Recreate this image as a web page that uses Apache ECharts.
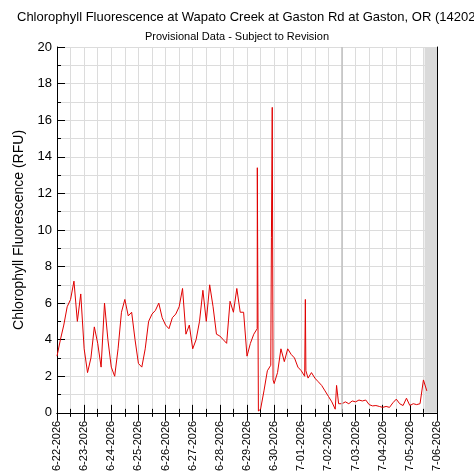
<!DOCTYPE html>
<html><head><meta charset="utf-8">
<script src="https://cdn.jsdelivr.net/npm/echarts@6/dist/echarts.min.js"></script>
<style>html,body{margin:0;padding:0;background:#fff}#c{width:474px;height:474px}</style>
</head><body><div id="c"></div>
<script>
const startDate = '2026-06-22T00:00:00Z';
const endDate = '2026-07-06T00:00:00Z';
const stepHours = 3;
const values = [
 3.1,4.0,4.8,5.8,6.2,7.2,5.0,6.5,
 3.5,2.2,3.0,4.7,3.8,2.5,6.0,4.0,
 2.5,2.0,3.5,5.5,6.2,5.3,5.5,4.0,
 2.7,2.5,3.5,5.0,5.4,5.6,6.0,5.2,
 4.8,4.6,5.2,5.4,5.8,6.8,4.3,4.8,
 3.5,4.0,5.0,6.7,5.0,7.0,5.8,4.3,
 4.2,4.0,3.8,6.1,5.5,6.8,5.5,5.5,
 3.1,3.8,4.3,4.6,0.2,1.2,2.3,2.6,
 1.6,2.2,3.5,2.8,3.5,3.2,3.0,2.5,
 2.3,2.0,1.9,2.2,1.9,1.7,1.5,1.2,
 0.9,0.6,0.2,0.5,0.5,0.6,0.5,0.65,
 0.6,0.7,0.65,0.7,0.45,0.38,0.4,0.35,
 0.3,0.35,0.3,0.55,0.75,0.5,0.4,0.8,
 0.4,0.5,0.45,0.5,1.8,1.2
];
// spikes: [day offset, value]
const spikes = [[7.38,13.4],[7.42,0.1],[7.9,9.6],[7.93,16.7],[7.96,1.8],[9.15,6.2],[9.17,2.3],[10.3,1.5]];
const provisionalStart = '2026-07-05T13:00:00Z';
const refLine = '2026-07-02T11:30:00Z';

const DAY = 86400000;
const t0 = Date.parse(startDate);
const t1 = Date.parse(endDate);
let pts = values.map((v,i)=>[t0 + i*stepHours*3600000, v]);
spikes.forEach(s=>pts.push([t0 + s[0]*DAY, s[1]]));
pts.sort((a,b)=>a[0]-b[0]);

const font = 'Liberation Sans, Arial, sans-serif';
const fmt = v => { const d=new Date(v); return (d.getUTCMonth()+1)+'-'+String(d.getUTCDate()).padStart(2,'0')+'-'+d.getUTCFullYear(); };
const c = echarts.init(document.getElementById('c'));
const gridColor = '#dcdcdc';
const tk = {inside:true,length:8,lineStyle:{color:'#000'}};
const mtk = {show:true,splitNumber:2,length:4,lineStyle:{color:'#000'}};
c.setOption({
 animation:false,
 title:[{text:'Chlorophyll Fluorescence at Wapato Creek at Gaston Rd at Gaston, OR (14202650)',left:12,top:6,textStyle:{fontFamily:font,fontSize:13,fontWeight:'normal',color:'#000'}},
        {text:'Provisional Data - Subject to Revision',left:'center',top:26,textStyle:{fontFamily:font,fontSize:11,fontWeight:'normal',color:'#000'}}],
 grid:{left:57,right:37,top:47,bottom:57},
 xAxis:[{type:'value',min:t0,max:t1,interval:DAY,
   axisLine:{lineStyle:{color:'#000'}},axisTick:tk,minorTick:mtk,
   splitLine:{show:true,lineStyle:{color:gridColor}},minorSplitLine:{show:true,lineStyle:{color:gridColor}},
   axisLabel:{rotate:90,formatter:fmt,fontFamily:font,fontSize:11,color:'#000',margin:8}},
  {type:'value',position:'top',min:t0,max:t1,interval:DAY,
   axisLine:{lineStyle:{color:'#000'}},axisTick:tk,minorTick:mtk,axisLabel:{show:false},splitLine:{show:false}}],
 yAxis:[{type:'value',min:0,max:20,interval:2,name:'Chlorophyll Fluorescence (RFU)',nameLocation:'middle',nameGap:24,
   nameTextStyle:{fontFamily:font,fontSize:14,color:'#000'},
   axisLine:{show:true,lineStyle:{color:'#000'}},axisTick:Object.assign({show:true},tk),minorTick:mtk,
   splitLine:{show:true,lineStyle:{color:gridColor}},minorSplitLine:{show:true,lineStyle:{color:gridColor}},
   axisLabel:{fontFamily:font,fontSize:13,color:'#000',margin:5}},
  {type:'value',position:'right',min:0,max:20,interval:2,
   axisLine:{show:true,lineStyle:{color:'#000'}},axisTick:Object.assign({show:true},tk),minorTick:mtk,axisLabel:{show:false},splitLine:{show:false}}],
 series:[{type:'line',data:pts,showSymbol:false,lineStyle:{color:'#e00000',width:1},
   markArea:{silent:true,itemStyle:{color:'#dadada'},data:[[{xAxis:Date.parse(provisionalStart)},{xAxis:t1}]]},
   markLine:{silent:true,symbol:'none',label:{show:false},lineStyle:{color:'#c0c0c0',type:'solid',width:1.5},data:[{xAxis:Date.parse(refLine)}]}}]
});
</script></body></html>
